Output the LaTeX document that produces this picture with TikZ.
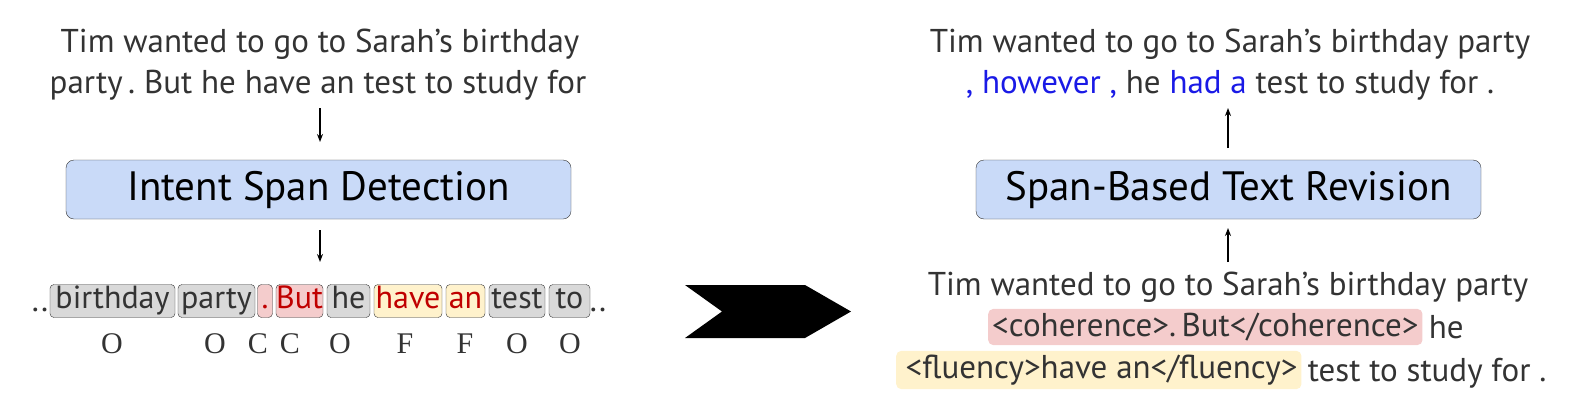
\documentclass[tikz,border=0pt]{standalone}
\usepackage{fontspec}
\setmainfont{PT Sans}
\newfontfamily\serifa{Liberation Serif}
\usetikzlibrary{arrows.meta}
\definecolor{txt}{HTML}{333333}
\definecolor{boxblue}{HTML}{C9DAF8}
\definecolor{pinkb}{HTML}{F4CCCC}
\definecolor{yelb}{HTML}{FFF2CC}
\definecolor{grayb}{HTML}{D9D9D9}
\definecolor{redt}{HTML}{C00000}
\definecolor{bluet}{HTML}{1A1AE6}
\begin{document}
\begin{tikzpicture}[x=1pt,y=-1pt,
  txtn/.style={font=\fontsize{33}{38}\selectfont, text=txt, inner sep=0pt, anchor=base},
  bigbox/.style={draw=black!80, fill=boxblue, rounded corners=8pt, minimum width=505pt, minimum height=59pt, font=\fontsize{41}{46}\selectfont, text=black},
  tok/.style={draw=black!80, fill=grayb, rounded corners=4pt, minimum height=33pt, inner sep=0pt, text height=23pt, text depth=8pt, font=\fontsize{32}{36}\selectfont, text=txt},
  lab/.style={font=\serifa\fontsize{30}{34}\selectfont, text=txt, inner sep=0pt},
  arr/.style={-{Stealth[length=8pt,width=6pt]}, line width=1.3pt, black},
  hl/.style={rounded corners=5pt, inner sep=4pt, minimum height=36pt}]
\useasboundingbox (0,0) rectangle (1581,405);
% left
\node[txtn] (l1) at (320,52) {Tim wanted to go to Sarah's birthday};
\node[txtn] (l2) at (318,93) {party\,.\ But he have an test to study for};
\node[bigbox] (isd) at (318.5,189.5) {Intent Span Detection};
\coordinate (a1) at (320,108);
\coordinate (a1e) at (320,142);
\draw[arr] (a1) -- (a1e);
\node[tok, minimum width=125pt] (t1) at (112.5,301) {birthday};
\node[tok, minimum width=77pt] (t2) at (216.5,301) {party};
\node[tok, minimum width=15pt, fill=pinkb, text=redt] (t3) at (265,301) {.};
\node[tok, minimum width=47pt, fill=pinkb, text=redt] (t4) at (299.5,301) {But};
\node[tok, minimum width=43pt] (t5) at (348.5,301) {he};
\node[tok, minimum width=68pt, fill=yelb, text=redt] (t6) at (408,301) {have};
\node[tok, minimum width=39pt, fill=yelb, text=redt] (t7) at (465.5,301) {an};
\node[tok, minimum width=56pt] (t8) at (517,301) {test};
\node[tok, minimum width=41pt] (t9) at (569.5,301) {to};
\node[txtn] (d1) at (40,311) {..};
\node[txtn] (d2) at (598,311) {..};
\coordinate (a2s) at (320,230);
\coordinate (a2e) at (320,262);
\draw[arr] (a2s) -- (a2e);
\foreach \n/\x/\l in {1/112/O,2/215/O,3/258/C,4/290/C,5/340/O,6/405/F,7/465/F,8/517/O,9/570/O}
  \node[lab] (b\n) at (\x,344) {\l};
% big arrow
\fill[black] (685,285) -- (805,285) -- (851,311.5) -- (805,338) -- (685,338) -- (722,311.5) -- cycle;
% right
\node[txtn] (r1) at (1230,52) {Tim wanted to go to Sarah's birthday party};
\node[txtn] (r2) at (1230,93) {\textcolor{bluet}{, however ,} he \textcolor{bluet}{had a} test to study for .};
\node[bigbox] (sbr) at (1228.5,189.5) {Span-Based Text Revision};
\coordinate (a3s) at (1228,148);
\coordinate (a3e) at (1228,108);
\draw[arr] (a3s) -- (a3e);
\node[txtn] (s1) at (1228,295) {Tim wanted to go to Sarah's birthday party};
\node[hl, fill=pinkb, anchor=west, font=\fontsize{33}{38}\selectfont, text=txt] (h1) at (988,327) {<coherence>.\,But</coherence>};
\node[txtn, anchor=base west] (s2) at ([xshift=6pt]h1.east |- 0,338) {he};
\node[hl, fill=yelb, anchor=west, font=\fontsize{33}{38}\selectfont, text=txt] (h2) at (896,370) {\,<fluency>have an</fluency>};
\node[txtn, anchor=base west] (s3) at ([xshift=6pt]h2.east |- 0,381) {test to study for .};
\coordinate (a4s) at (1228,262);
\coordinate (a4e) at (1228,228);
\draw[arr] (a4s) -- (a4e);
\end{tikzpicture}
\end{document}
